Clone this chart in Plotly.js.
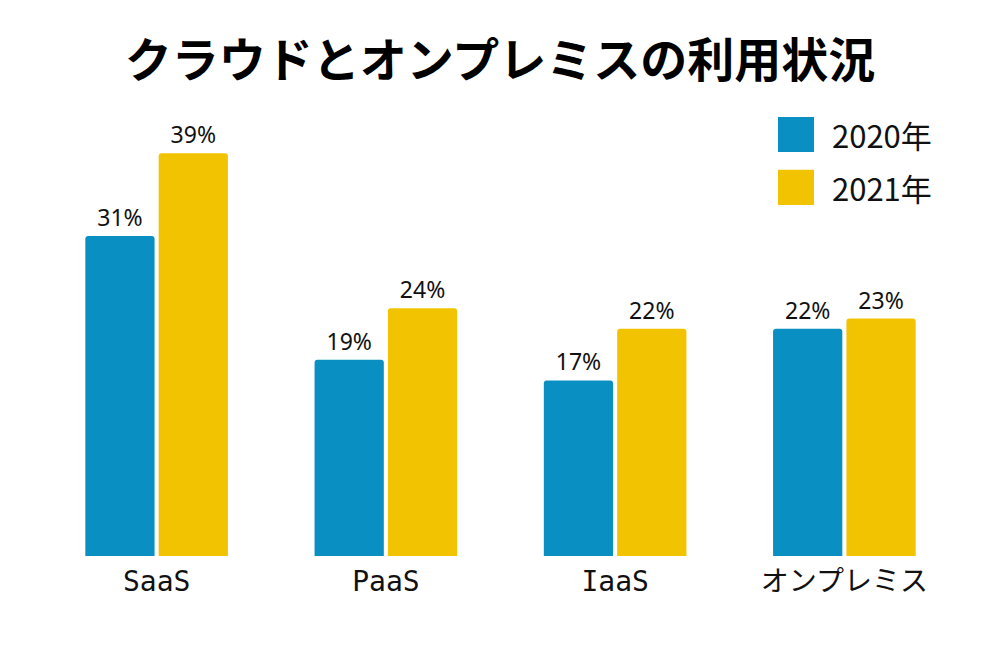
<!DOCTYPE html>
<html>
<head>
<meta charset="utf-8">
<script src="https://cdn.plot.ly/plotly-3.0.1.min.js"></script>
<style>
  body { margin: 0; background: #fff; }
  #chart { width: 1000px; height: 667px; }
</style>
</head>
<body>
<div id="chart"></div>
<script>
const categories = ['SaaS', 'PaaS', 'IaaS', 'オンプレミス'];
const seriesNames = ['2020年', '2021年'];
const values2020 = [31, 19, 17, 22];
const values2021 = [39, 24, 22, 23];
const seriesColors = ['#0a8fc3', '#f2c300'];

const labelFont = { family: 'Noto Sans, Noto Sans CJK JP, sans-serif', size: 23, color: '#111' };

function barTrace(name, values, color) {
    return {
        type: 'bar',
        name: name,
        x: categories,
        y: values,
        marker: { color: color, cornerradius: 3 },
        texttemplate: '%{y}%',
        textposition: 'outside',
        textfont: labelFont,
        cliponaxis: false,
        hoverinfo: 'skip'
    };
}

const data = [
    barTrace(seriesNames[0], values2020, seriesColors[0]),
    barTrace(seriesNames[1], values2021, seriesColors[1])
];

// hand-made legend with big swatches
const legendRows = [
    { y0: 0.978, y1: 1.063, ty: 1.020 },
    { y0: 0.850, y1: 0.935, ty: 0.892 }
];
const shapes = legendRows.map((r, i) => ({
    type: 'rect', xref: 'paper', yref: 'paper',
    x0: 0.8026, x1: 0.8419, y0: r.y0, y1: r.y1,
    fillcolor: seriesColors[i], line: { width: 0 }
}));
const annotations = legendRows.map((r, i) => ({
    xref: 'paper', yref: 'paper',
    x: 0.8595, y: r.ty, xanchor: 'left', yanchor: 'middle',
    text: seriesNames[i], showarrow: false,
    font: { family: 'Noto Sans CJK JP, sans-serif', size: 31, color: '#111' }
}));

const layout = {
    width: 1000,
    height: 667,
    margin: { l: 42, r: 41, t: 143, b: 111 },
    paper_bgcolor: '#fff',
    plot_bgcolor: '#fff',
    title: {
        text: '<b>クラウドとオンプレミスの利用状況</b>',
        x: 0.5, xanchor: 'center',
        y: 0.909, yanchor: 'middle',
        font: { family: 'Noto Sans CJK JP, sans-serif', size: 47, color: '#000' }
    },
    barmode: 'group',
    bargap: 0.36,
    bargroupgap: 0.056,
    showlegend: false,
    xaxis: {
        tickfont: { family: 'DejaVu Sans Mono, Noto Sans CJK JP, monospace', size: 28, color: '#111' },
        ticklabelstandoff: 6,
        showline: false,
        ticks: '',
        ticklen: 0,
        showgrid: false
    },
    yaxis: {
        range: [0, 40],
        visible: false,
        showgrid: false,
        zeroline: false
    },
    shapes: shapes,
    annotations: annotations
};

Plotly.newPlot('chart', data, layout, { displayModeBar: false, staticPlot: true });
</script>
</body>
</html>
